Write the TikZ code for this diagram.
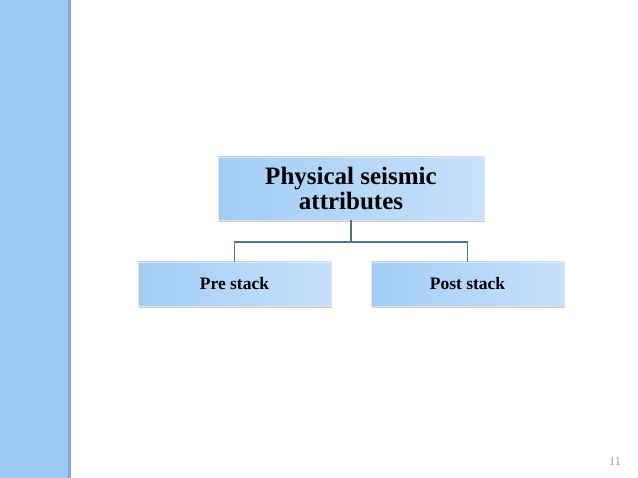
\documentclass[tikz,border=0pt]{standalone}
\usepackage{fontspec}
\setmainfont{Liberation Serif}
\usetikzlibrary{shadows}
\definecolor{side}{HTML}{9DC8F5}
\definecolor{sideedge}{HTML}{7EA9D8}
\definecolor{boxl}{HTML}{A3CDF6}
\definecolor{boxr}{HTML}{C6E1FB}
\definecolor{conn}{HTML}{4E7394}
\definecolor{pnum}{HTML}{7F9CBC}
\tikzset{
  sabox/.style={draw=white!80!gray, line width=0.4pt, left color=boxl, right color=boxr,
    drop shadow={shadow xshift=1pt, shadow yshift=-2pt, opacity=0.35, fill=black!60},
    font=\bfseries, text=black, inner sep=0pt, align=center},
  link/.style={draw=conn, line width=1.6pt}
}
\begin{document}
\begin{tikzpicture}[x=1pt,y=-1pt]
\useasboundingbox (0,0) rectangle (638,478);
\fill[white] (0,0) rectangle (638,478);
\fill[side] (0,0) rectangle (69,478);
\fill[sideedge] (68,0) rectangle (70.5,478);
\node[sabox, minimum width=266pt, minimum height=63pt, font=\bfseries\fontsize{25}{26}\selectfont] (top) at (351,188.5) {Physical seismic\\[-1pt]attributes};
\node[sabox, minimum width=193pt, minimum height=44pt, font=\bfseries\fontsize{17.5}{19}\selectfont] (pre) at (234.5,284) {Pre stack};
\node[sabox, minimum width=193pt, minimum height=44pt, font=\bfseries\fontsize{17.5}{19}\selectfont] (post) at (467.5,284) {Post stack};
\coordinate (mid) at (351,242);
\draw[link] (top.south) -- (mid);
\draw[link] (pre.north) |- (mid) -| (post.north);
\node[text=pnum, font=\fontsize{12}{14}\selectfont] (pg) at (615,462) {11};
\end{tikzpicture}
\end{document}
